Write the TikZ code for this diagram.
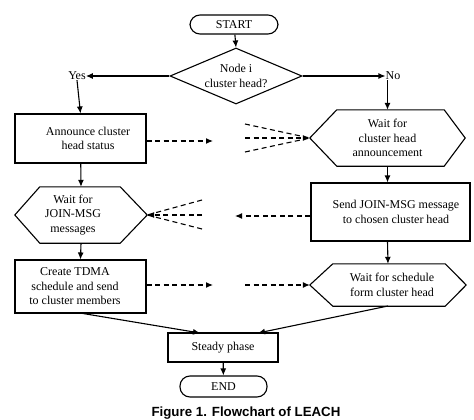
\documentclass[tikz,border=0pt]{standalone}
\usepackage{fontspec}
\setmainfont{Liberation Serif}
\setsansfont{Liberation Sans}
\usetikzlibrary{shapes.geometric,arrows.meta}
\begin{document}
\begin{tikzpicture}[x=1pt,y=-1pt,
  every node/.style={font=\fontsize{12}{14.5}\selectfont, align=center, inner sep=0pt},
  box/.style={draw, line width=1.1pt, rectangle},
  term/.style={draw, line width=1.1pt, rounded corners=10pt},
  hexbox/.style={rectangle},
  arr/.style={line width=1.1pt, -{Latex[length=7pt,width=6pt]}},
  dsh/.style={line width=1.1pt, dash pattern=on 5pt off 3.5pt},
  darr/.style={dsh, -{Latex[length=7pt,width=6pt]}},
  hexline/.style={line width=1.1pt}
]
\useasboundingbox (0,0) rectangle (474,420);

% terminals and decision
\node[term, minimum width=88pt, minimum height=19pt] (start) at (234,24.5) {START};
\node[draw, line width=1.1pt, diamond, aspect=2.36, minimum width=132pt, minimum height=56pt] (dia) at (236,76) {Node i\\cluster head?};
\node (yes) at (77,76) {Yes};
\node (no) at (393,76) {No};

% left column
\node[box, minimum width=131pt, minimum height=49pt] (ann) at (80.5,138.5) {};
\node at (88,138.5) {Announce cluster\\head status};
\node[hexbox, minimum width=132pt, minimum height=56pt] (h2) at (81,215) {};
\node at (73,215) {Wait for\\JOIN-MSG\\messages};
\node[box, minimum width=131pt, minimum height=53pt] (tdma) at (80.5,286.5) {};
\node at (75,286.5) {Create TDMA\\schedule and send\\to cluster members};

% right column
\node[hexbox, minimum width=155pt, minimum height=56pt] (h1) at (387.5,138) {Wait for\\cluster head\\announcement};
\node[box, minimum width=159pt, minimum height=58pt] (send) at (390.5,212) {};
\node at (396,212) {Send JOIN-MSG message\\to chosen cluster head};
\node[hexbox, minimum width=156pt, minimum height=42pt] (h3) at (388,285) {};
\node at (392,285) {Wait for schedule\\form cluster head};

% bottom
\node[box, minimum width=110pt, minimum height=29pt] (steady) at (223,347.5) {Steady phase};
\node[term, minimum width=87pt, minimum height=21pt] (end) at (223.5,386.5) {END};

% hexagon outlines
\draw[hexline] (h1.west) -- ([xshift=27pt]h1.north west) -- ([xshift=-21pt]h1.north east) -- (h1.east) -- ([xshift=-21pt]h1.south east) -- ([xshift=27pt]h1.south west) -- cycle;
\draw[hexline] (h2.west) -- ([xshift=25pt]h2.north west) -- ([xshift=-27pt]h2.north east) -- (h2.east) -- ([xshift=-27pt]h2.south east) -- ([xshift=25pt]h2.south west) -- cycle;
\draw[hexline] (h3.west) -- ([xshift=23pt]h3.north west) -- ([xshift=-21pt]h3.north east) -- (h3.east) -- ([xshift=-21pt]h3.south east) -- ([xshift=23pt]h3.south west) -- cycle;

% solid arrows
\draw[arr] (start) -- (dia.north);
\draw[arr] (dia.west) -- (yes.east);
\draw[arr] (dia.east) -- (no.west);
\draw[arr] (yes.south) -- (ann.north);
\draw[arr] (h1.north |- no.south) -- (h1.north);
\draw[arr] (ann) -- (h2.north);
\draw[arr] (h2.south) -- (tdma.north);
\draw[arr] (h1.south) -- (h1.south |- send.north);
\draw[arr] (send.south -| h1.south) -- (h3.north);
\coordinate (sIn1) at (200,333);
\coordinate (sIn2) at (258,333);
\coordinate (tdmaOut) at (80,313);
\coordinate (h3Out) at (388,306);
\draw[arr] (tdmaOut) -- (sIn1);
\draw[arr] (h3Out) -- (sIn2);
\draw[arr] (steady) -- (end);

% dashed messages: announce
\coordinate (a1) at (213,141);
\draw[darr] (ann.east |- a1) -- (a1);
\coordinate (f1a) at (245,124);
\coordinate (f1b) at (245,138);
\coordinate (f1c) at (245,152);
\draw[dsh] (f1a) -- (h1.west);
\draw[dsh] (f1c) -- (h1.west);
\draw[darr] (f1b) -- (h1.west);

% dashed: join-msg
\coordinate (a2) at (235,216);
\draw[darr] (send.west |- a2) -- (a2);
\coordinate (f2a) at (202,200);
\coordinate (f2b) at (202,215);
\coordinate (f2c) at (202,229);
\draw[dsh] (f2a) -- (h2.east);
\draw[dsh] (f2c) -- (h2.east);
\draw[darr] (f2b) -- (h2.east);

% dashed: schedule
\coordinate (a3) at (213,285);
\draw[darr] (tdma.east |- a3) -- (a3);
\coordinate (f3) at (245,285);
\draw[darr] (f3) -- (h3.west);

% caption
\node[font=\sffamily\bfseries\fontsize{13.3}{15}\selectfont] (cap) at (246,413) {Figure 1. Flowchart of LEACH};
\end{tikzpicture}
\end{document}
